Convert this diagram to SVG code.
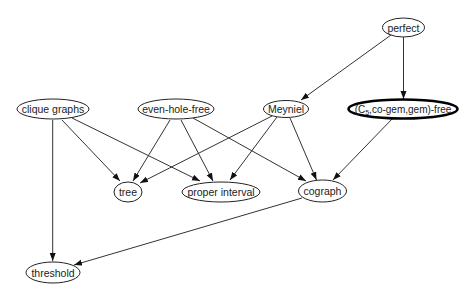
<svg xmlns="http://www.w3.org/2000/svg" width="474" height="300" viewBox="0 0 474 300">
<style>
.n ellipse{fill:#fff;stroke:#222;stroke-width:1}
.n text{font-family:"Liberation Sans",Arial,sans-serif;font-size:10.5px;fill:#222;text-anchor:middle}
.e line{stroke:#333;stroke-width:1;marker-end:url(#ah)}
</style>
<defs>
<marker id="ah" markerUnits="userSpaceOnUse" markerWidth="9" markerHeight="7" refX="8" refY="3" orient="auto">
<path d="M0,0 L8,3 L0,6 z" fill="#111"/>
</marker>
</defs>
<rect width="474" height="300" fill="#fff"/>
<g id="edges" class="e">
<line x1="391" y1="35" x2="301" y2="100"/>
<line x1="403.5" y1="37" x2="403.5" y2="99"/>
<line x1="52.7" y1="120" x2="52.7" y2="261"/>
<line x1="62" y1="120" x2="120" y2="181"/>
<line x1="72" y1="118" x2="200" y2="181"/>
<line x1="170" y1="120" x2="133" y2="181"/>
<line x1="181" y1="120" x2="213" y2="181"/>
<line x1="193" y1="118" x2="306" y2="181"/>
<line x1="272" y1="116" x2="140" y2="183"/>
<line x1="277" y1="117" x2="230" y2="180"/>
<line x1="290" y1="118" x2="316.5" y2="180"/>
<line x1="393" y1="118" x2="333" y2="180"/>
<line x1="302" y1="198" x2="74" y2="265"/>
</g>
<g id="perfect" class="n"><ellipse cx="403.5" cy="27.5" rx="21" ry="9.5"/><text x="403.5" y="31.5">perfect</text></g>
<g id="c5free" class="n"><ellipse cx="403" cy="109" rx="54.5" ry="9.5" style="stroke-width:2.5;stroke:#000"/><text x="403" y="113" style="font-size:10px">(C<tspan font-size="7" dy="2">5</tspan><tspan dy="-2">,co-gem,gem)-free</tspan></text></g>
<g id="meyniel" class="n"><ellipse cx="286" cy="109" rx="22.5" ry="8.5"/><text x="286" y="113">Meyniel</text></g>
<g id="clique" class="n"><ellipse cx="53" cy="109" rx="36" ry="10"/><text x="53" y="113">clique graphs</text></g>
<g id="evenhole" class="n"><ellipse cx="176" cy="109" rx="38" ry="10"/><text x="176" y="113">even-hole-free</text></g>
<g id="tree" class="n"><ellipse cx="128" cy="192" rx="14" ry="10"/><text x="128" y="196">tree</text></g>
<g id="proper" class="n"><ellipse cx="221" cy="192" rx="39" ry="10"/><text x="221" y="196">proper interval</text></g>
<g id="cograph" class="n"><ellipse cx="322.5" cy="191" rx="24" ry="11"/><text x="322.5" y="195">cograph</text></g>
<g id="threshold" class="n"><ellipse cx="53" cy="272.5" rx="27" ry="10.5"/><text x="53" y="276.5">threshold</text></g>
</svg>
